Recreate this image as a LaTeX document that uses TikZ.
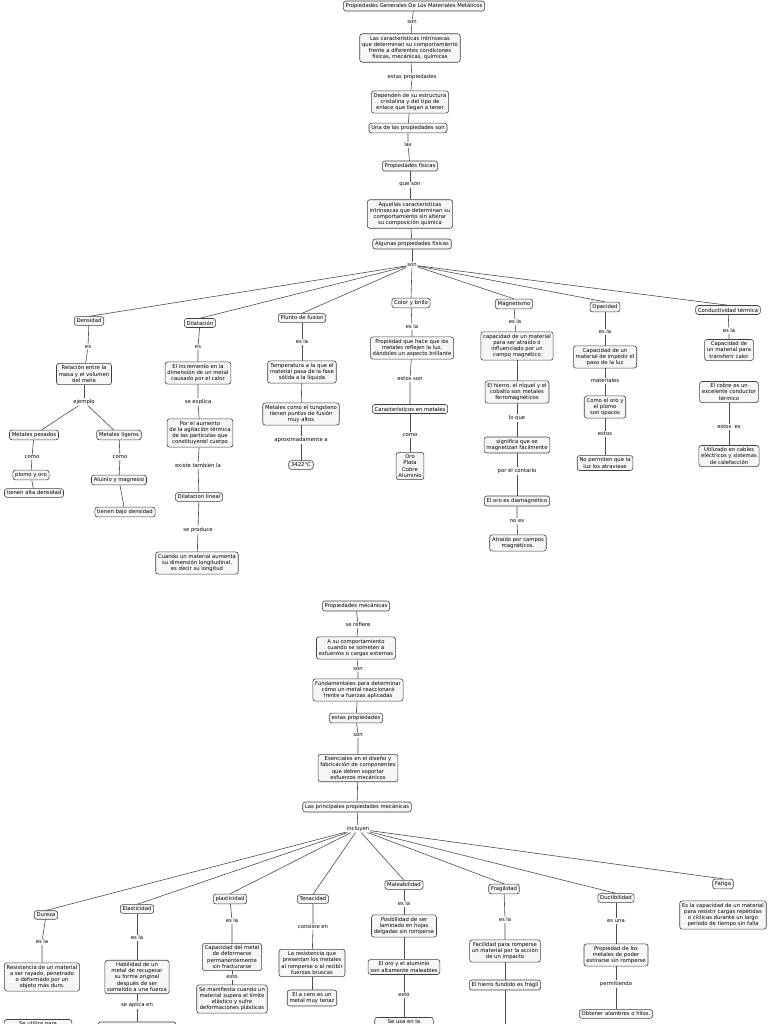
\documentclass[tikz,border=0pt]{standalone}
\usepackage{fontspec}
\setmainfont{DejaVu Sans}
\begin{document}
\begin{tikzpicture}[x=1pt,y=-1pt,
 box/.style={draw=black!75,line width=0.6pt,rounded corners=2.5pt,fill=cyan!4!gray!8,align=center,inner sep=2.3pt,font=\fontsize{5.3}{6.2}\selectfont},
 lab/.style={fill=white,inner sep=0.8pt,align=center,font=\fontsize{5.3}{6.2}\selectfont},
 con/.style={draw=black!70,line width=0.6pt}]
\useasboundingbox (0,0) rectangle (768,1024);
\fill[white] (0,0) rectangle (768,1024);
\clip (0,0) rectangle (768,1024);
% ---------- top
\node[box] (t1) at (414,6) {Propiedades Generales De Los Materiales Metálicos};
\node[lab] (l1) at (412,22) {son};
\node[box] (t2) at (410,48) {Las características intrínsecas\\que determinan su comportamiento\\frente a diferentes condiciones\\físicas, mecánicas, químicas};
\node[lab] (l2) at (412,77) {estas propiedades};
\node[box] (t3) at (410,102) {Dependen de su estructura\\cristalina y del tipo de\\enlace que llegan a tener};
\node[box] (t4) at (408,128) {Una de las propiedades son};
\node[lab] (l3) at (408,145) {las};
\node[box] (t5) at (410,166) {Propiedades físicas};
\node[lab] (l4) at (410,185) {que son};
\node[box] (t6) at (410,214) {Aquellas características\\intrínsecas que determinan su\\comportamiento sin alterar\\su composición química};
\node[box] (t7) at (412,244) {Algunas propiedades físicas};
\node[lab] (hub) at (412,265) {son};
\draw[con] (t1)--(l1)--(t2); \draw[con] (t2)--(l2)--(t3); \draw[con] (t3)--(t4); \draw[con] (t4)--(l3)--(t5);
\draw[con] (t5)--(l4)--(t6); \draw[con] (t6)--(t7); \draw[con] (t7)--(hub);
\node[box] (den) at (89,321) {Densidad};
\node[box] (dil) at (200,323) {Dilatación};
\node[box] (pf) at (302,318) {Plunto de fusion};
\node[box] (cb) at (411,303) {Color y brillo};
\node[box] (mag) at (514,304) {Magnetismo};
\node[box] (opa) at (605,307) {Opacidad};
\node[box] (ct) at (728,310) {Conductividad térmica};
\foreach \n in {den,dil,pf,cb,mag,opa,ct} \draw[con] (hub)--(\n.north);
% Densidad
\node[lab] (d1) at (88,347) {es};
\node[box] (d2) at (84,374) {Relación entre la\\masa y el volumen\\del meta};
\node[lab] (d3) at (84,402) {ejemplo};
\node[box] (d4) at (34,435) {Metales pesados};
\node[box] (d5) at (119,435) {Metales ligeros};
\node[lab] (d6) at (32,457) {como};
\node[box] (d7) at (31,475) {plomo y oro};
\node[box] (d8) at (34,493) {tienen alta densidad};
\node[lab] (d9) at (120,457) {como};
\node[box] (d10) at (119,480) {Aluinio y magnesio};
\node[box] (d11) at (125,512) {tienen bajo densidad};
\draw[con] (den)--(d1)--(d2); \draw[con] (d2)--(d3); \draw[con] (d3)--(d4); \draw[con] (d3)--(d5);
\draw[con] (d4)--(d6)--(d7); \draw[con] (d7)--(d8); \draw[con] (d5)--(d9)--(d10); \draw[con] (d10)--(d11);
% Dilatacion
\node[lab] (e1) at (198,347) {es};
\node[box] (e2) at (198,373) {El incremento en la\\dimensión de un metal\\causado por el calor};
\node[lab] (e3) at (198,402) {se explica};
\node[box] (e4) at (200,433) {Por el aumento\\de la agitación térmica\\de las partículas que\\constituyenel cuerpo};
\node[lab] (e5) at (198,465) {existe también la};
\node[box] (e6) at (199,497) {Dilatacion lineal};
\node[lab] (e7) at (198,530) {se produce};
\node[box] (e8) at (197,563) {Cuando un material aumenta\\su dimensión longitudinal,\\es decir su longitud};
\draw[con] (dil)--(e1)--(e2); \draw[con] (e2)--(e3)--(e4); \draw[con] (e4)--(e5)--(e6); \draw[con] (e6)--(e7)--(e8);
% Punto de fusion
\node[lab] (f1) at (302,342) {es la};
\node[box] (f2) at (302,372) {Temperatura a la que el\\material pasa de la fase\\sólida a la líquida};
\node[box] (f3) at (301,414) {Metales como el tungsteno\\tienen puntos de fusión\\muy altos};
\node[lab] (f4) at (301,440) {aproximadamente a};
\node[box] (f5) at (301,465) {3422°C};
\draw[con] (pf)--(f1)--(f2); \draw[con] (f2)--(f3); \draw[con] (f3)--(f4)--(f5);
% Color y brillo
\node[lab] (c1) at (412,327) {es la};
\node[box] (c2) at (412,348) {Propiedad que hace que los\\metales reflejen la luz,\\dándoles un aspecto brillante};
\node[lab] (c3) at (410,379) {estos son};
\node[box] (c4) at (410,409) {Característicos en metales};
\node[lab] (c5) at (410,435) {como};
\node[box] (c6) at (410,466) {Oro\\Plata\\Cobre\\Aluminio};
\draw[con] (cb)--(c1)--(c2); \draw[con] (c2)--(c3)--(c4); \draw[con] (c4)--(c5)--(c6);
% Magnetismo
\node[lab] (m1) at (515,322) {es la};
\node[box] (m2) at (517,346) {capacidad de un material\\para ser atraído o\\influenciado por un\\campo magnético};
\node[box] (m3) at (517,392) {El hierro, el níquel y el\\cobalto son metales\\ferromagnéticos};
\node[lab] (m4) at (517,418) {lo que};
\node[box] (m5) at (517,445) {significa que se\\magnetizan fácilmente};
\node[lab] (m6) at (517,471) {por el contario};
\node[box] (m7) at (517,501) {El oro es diamagnético};
\node[lab] (m8) at (517,521) {no es};
\node[box] (m9) at (518,543) {Atraído por campos\\magnéticos.};
\draw[con] (mag)--(m1)--(m2); \draw[con] (m2)--(m3); \draw[con] (m3)--(m4)--(m5); \draw[con] (m5)--(m6)--(m7); \draw[con] (m7)--(m8)--(m9);
% Opacidad
\node[lab] (o1) at (605,332) {es la};
\node[box] (o2) at (605,357) {Capacidad de un\\material de impedir el\\paso de la luz};
\node[lab] (o3) at (605,381) {materiales};
\node[box] (o4) at (605,407) {Como el oro y\\el plomo\\son opacos};
\node[lab] (o5) at (605,434) {estos};
\node[box] (o6) at (605,463) {No permiten que la\\luz los atraviese};
\draw[con] (opa)--(o1)--(o2); \draw[con] (o2)--(o3)--(o4); \draw[con] (o4)--(o5)--(o6);
% Conductividad
\node[lab] (k1) at (729,331) {es la};
\node[box] (k2) at (729,350) {Capacidad de\\un material para\\transferir calor};
\node[box] (k3) at (729,392) {El cobre es un\\excelente conductor\\térmico};
\node[lab] (k4) at (729,427) {estos\ \ es};
\node[box] (k5) at (729,456) {Utilizado en cables\\eléctricos y sistemas\\de calefacción};
\draw[con] (ct)--(k1)--(k2); \draw[con] (k3)--(k4)--(k5);
% ---------- bottom
\node[box] (b1) at (356,606) {Propiedades mecánicas};
\node[lab] (bl1) at (358,625) {se refiere};
\node[box] (b2) at (356,648) {A su comportamiento\\cuando se someten a\\esfuerzos o cargas externas};
\node[lab] (bl2) at (358,669) {son};
\node[box] (b3) at (358,690) {Fundamentales para determinar\\cómo un metal reaccionará\\frente a fuerzas aplicadas};
\node[box] (b4) at (356,718) {estas propiedades};
\node[lab] (bl3) at (358,735) {son};
\node[box] (b5) at (358,768) {Esenciales en el diseño y\\fabricación de componentes\\que deben soportar\\esfuerzos mecánicos};
\node[box] (b6) at (357,807) {Las principales propiedades mecánicas};
\node[lab] (hub2) at (358,829) {incluyen};
\draw[con] (b1)--(bl1)--(b2); \draw[con] (b2)--(bl2)--(b3); \draw[con] (b3)--(b4); \draw[con] (b4)--(bl3)--(b5); \draw[con] (b5)--(b6); \draw[con] (b6)--(hub2);
\node[box] (du) at (46,915) {Dureza};
\node[box] (el) at (137,909) {Elasticidad};
\node[box] (pl) at (230,899) {plasticidad};
\node[box] (te) at (313,899) {Tenacidad};
\node[box] (ma) at (404,885) {Maleabilidad};
\node[box] (fr) at (504,889) {Fragilidad};
\node[box] (dc) at (616,898) {Ductibilidad};
\node[box] (fa) at (723,884) {Fatiga};
\foreach \n in {du,el,pl,te,ma,fr,dc,fa} \draw[con] (hub2)--(\n.north);
% Dureza
\node[lab] (u1) at (42,942) {es la};
\node[box] (u2) at (42,977) {Resistencia de un material\\a ser rayado, penetrado\\o deformado por un\\objeto más duro.};
\node[box] (u3) at (38,1030) {Se utiliza para\\determinarla capacidad\\de un material};
\draw[con] (du)--(u1)--(u2);
% Elasticidad
\node[lab] (s1) at (137,938) {es la};
\node[box] (s2) at (137,977) {Habilidad de un\\metal de recuperar\\su forma original\\después de ser\\sometido a una fuerza};
\node[lab] (s3) at (137,1005) {se aplica en};
\node[box,minimum width=78pt,minimum height=20pt] (s4) at (137,1032) {};
\draw[con] (s2)--(s3)--(s4); \draw[con] (el)--(s1)--(s2);
% plasticidad
\node[lab] (p1) at (232,921) {es la};
\node[box] (p2) at (232,957) {Capacidad del metal\\de deformarse\\permanentemente\\sin fracturarse};
\node[lab] (p3) at (232,977) {esto};
\node[box] (p4) at (232,999) {Se manifiesta cuando un\\material supera el límite\\elástico y sufre\\deformaciones plásticas};
\draw[con] (pl)--(p1)--(p2); \draw[con] (p2)--(p3)--(p4);
% Tenacidad
\node[lab] (n1) at (313,927) {consiste en};
\node[box] (n2) at (312,963) {La resistencia que\\presentan los metales\\al romperse o al recibir\\fuerzas bruscas};
\node[box] (n3) at (312,998) {El a cero es un\\metal muy tenaz};
\draw[con] (te)--(n1)--(n2); \draw[con] (n2)--(n3);
% Maleabilidad
\node[lab] (a1) at (404,904) {es la};
\node[box] (a2) at (404,926) {Posibilidad de ser\\laminado en hojas\\delgadas sin romperse};
\node[box] (a3) at (404,967) {El oro y el aluminio\\son altamente maleables};
\node[lab] (a4) at (404,995) {esto};
\node[box] (a5) at (404,1028) {Se usa en la\\producción de papel\\de aluminio};
\draw[con] (ma)--(a1)--(a2); \draw[con] (a2)--(a3); \draw[con] (a3)--(a4)--(a5);
% Fragilidad
\node[lab] (g1) at (505,920) {es la};
\node[box] (g2) at (505,951) {Facilidad para romperse\\un material por la acción\\de un impacto};
\node[box] (g3) at (505,985) {El hierro fundido es frágil};
\coordinate (g4) at (505,1030);
\draw[con] (fr)--(g1)--(g2); \draw[con] (g2)--(g3); \draw[con] (g3)--(g4);
% Ductibilidad
\node[lab] (q1) at (616,921) {es una};
\node[box] (q2) at (616,955) {Propiedad de los\\metales de poder\\estirarse sin romperse};
\node[lab] (q3) at (616,984) {permitiendo};
\node[box] (q4) at (616,1014) {Obtener alambres o hilos.};
\draw[con] (dc)--(q1)--(q2); \draw[con] (q2)--(q3)--(q4);
% Fatiga
\node[box] (z1) at (723,915) {Es la capacidad de un material\\para resistir cargas repetidas\\o cíclicas durante un largo\\periodo de tiempo sin falla};
\end{tikzpicture}
\end{document}
